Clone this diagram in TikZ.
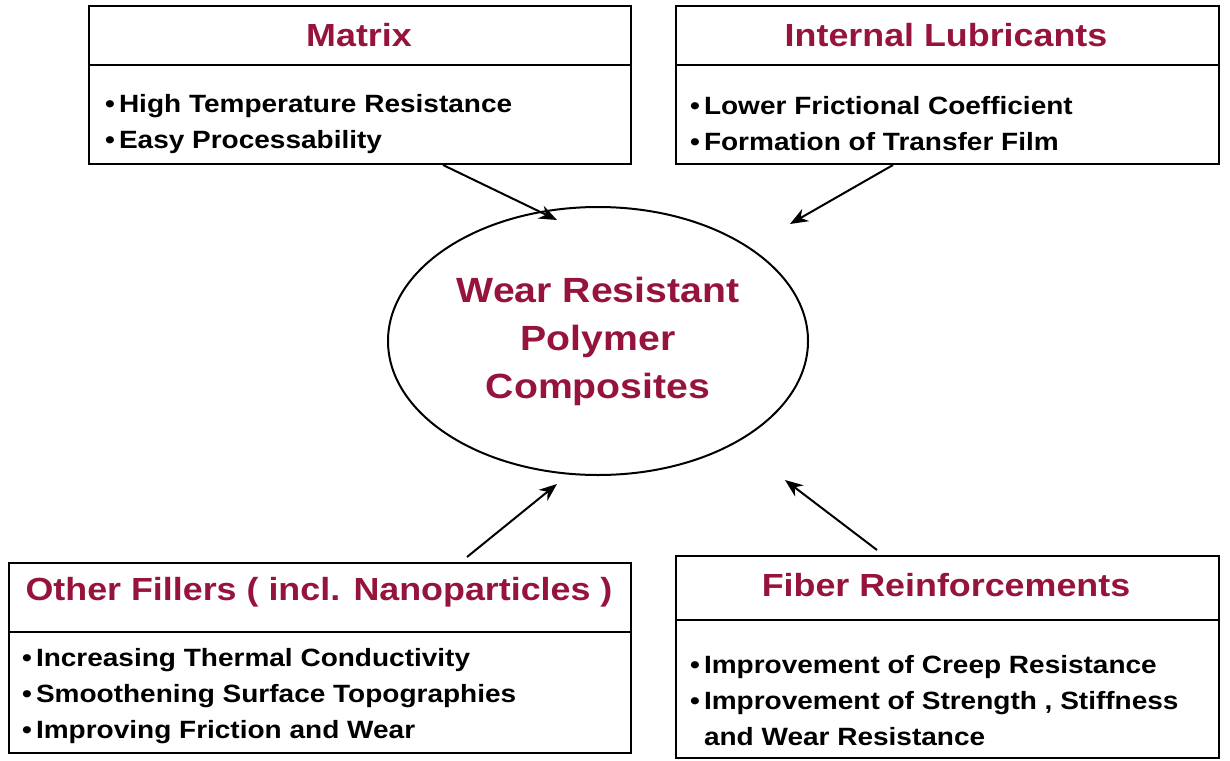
\documentclass[tikz,border=0pt]{standalone}
\usepackage{fontspec}
\setmainfont{Liberation Sans}[FakeStretch=1.12]
\usetikzlibrary{arrows.meta,shapes.geometric}
\definecolor{tred}{RGB}{150,20,60}
\begin{document}
\begin{tikzpicture}[x=0.5pt,y=-0.5pt,
  box/.style={draw,line width=1pt,inner sep=0pt,anchor=north west},
  ttl/.style={font=\bfseries\fontsize{16}{19}\selectfont,text=tred},
  itm/.style={font=\bfseries\fontsize{12.5}{18}\selectfont,align=left,anchor=west},
  arr/.style={-{Stealth[length=9pt,width=7pt]},line width=1pt}]
\useasboundingbox (0,0) rectangle (1230,760);
% Matrix
\node[box,minimum width=271pt,minimum height=79pt] (mx) at (88,5) {};
\draw[line width=1pt] (88,65) -- (630,65);
\node[ttl] (mxt) at (359,35) {Matrix};
\node[itm] (mxi) at (98,124) {•\,High Temperature Resistance\\•\,Easy Processability};
% Lubricants
\node[box,minimum width=271.5pt,minimum height=79pt] (lb) at (675,5) {};
\draw[line width=1pt] (675,65) -- (1218,65);
\node[ttl] (lbt) at (946,35) {Internal Lubricants};
\node[itm] (lbi) at (683,124) {•\,Lower Frictional Coefficient\\•\,Formation of Transfer Film};
% Other fillers
\node[box,minimum width=311pt,minimum height=95pt] (of) at (8,562) {};
\draw[line width=1pt] (8,632) -- (630,632);
\node[ttl] (oft) at (319,592) {Other Fillers ( incl. Nanoparticles )};
\node[itm] (ofi) at (15,696) {•\,Increasing Thermal Conductivity\\•\,Smoothening Surface Topographies\\•\,Improving Friction and Wear};
% Fiber
\node[box,minimum width=271.5pt,minimum height=101pt] (fb) at (675,555) {};
\draw[line width=1pt] (675,620) -- (1218,620);
\node[ttl] (fbt) at (946,585) {Fiber Reinforcements};
\node[itm] (fbi) at (683,701) {•\,Improvement of Creep Resistance\\•\,Improvement of Strength , Stiffness\\\phantom{•\,}and Wear Resistance};
% Center
\node[draw,ellipse,line width=1pt,minimum width=210pt,minimum height=134pt,inner sep=0pt] (c) at (598,341) {};
\node[font=\bfseries\fontsize{17.5}{24}\selectfont,text=tred,align=center] (ct) at (598,341) {Wear Resistant\\Polymer\\Composites};
% arrows
\coordinate (a1) at (443,165); \coordinate (e1) at (557,220);
\coordinate (a2) at (893,165); \coordinate (e2) at (790,224);
\coordinate (a3) at (467,557); \coordinate (e3) at (557,484);
\coordinate (a4) at (877,550); \coordinate (e4) at (785,480);
\draw[arr] (a1) -- (e1);
\draw[arr] (a2) -- (e2);
\draw[arr] (a3) -- (e3);
\draw[arr] (a4) -- (e4);
\end{tikzpicture}
\end{document}
